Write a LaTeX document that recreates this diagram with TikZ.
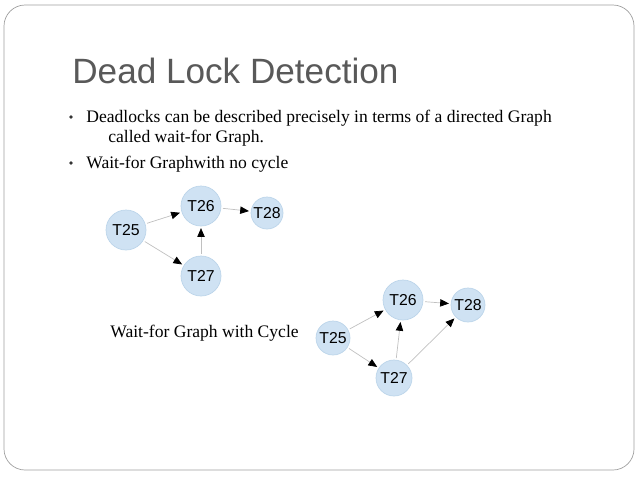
\documentclass[tikz,border=0pt]{standalone}
\usepackage{fontspec}
\setmainfont{Liberation Serif}
\newfontfamily\arialfont{Liberation Sans}
\usetikzlibrary{arrows.meta,positioning}

\definecolor{framegray}{HTML}{A0A0A0}
\definecolor{titlegray}{HTML}{595959}
\definecolor{nodefill}{HTML}{CFE2F3}
\definecolor{nodeline}{HTML}{BCD5EA}
\definecolor{edgegray}{HTML}{C0C0C0}

\begin{document}
\begin{tikzpicture}[
  x=0.02cm, y=-0.02cm,
  tnode/.style={circle, fill=nodefill, draw=nodeline, inner sep=0pt, font=\arialfont\fontsize{9}{10}\selectfont},
  waits/.style={-{Triangle[length=5pt, width=4.2pt, color=black]}, draw=edgegray, thin, shorten >=1pt, shorten <=1pt},
  bodytext/.style={anchor=base west, inner sep=0pt, font=\fontsize{10}{12}\selectfont},
  bulletdot/.style={circle, fill=black!80, inner sep=0pt, minimum size=2.2pt}
]
\useasboundingbox (0,0) rectangle (638,478);
\draw[framegray, rounded corners=12pt] (4,5) rectangle (634,470);

% title and bullets
\node[anchor=base west, inner sep=0pt, text=titlegray, font=\arialfont\fontsize{20}{24}\selectfont] (title) at (72,83) {Dead Lock Detection};
\node[bulletdot] (dot1) at (71,117) {};
\node[bodytext] (line1) at (86,122) {Deadlocks can be described precisely in terms of a directed Graph};
\node[bodytext] (line2) at (108,142) {called wait-for Graph.};
\node[bulletdot] (dot2) at (71,163) {};
\node[bodytext] (line3) at (86,168) {Wait-for Graphwith no cycle};
\node[bodytext] (cyclelabel) at (110,337) {Wait-for Graph with Cycle};

% graph without cycle
\node[tnode, minimum size=0.8cm] (a25) at (126,230) {T25};
\node[tnode, minimum size=0.8cm] (a26) at (201,206) {T26};
\node[tnode, minimum size=0.64cm] (a28) at (267,213) {T28};
\node[tnode, minimum size=0.8cm] (a27) at (201,276) {T27};

\draw[waits] (a25) -- (a26);
\draw[waits] (a25) -- (a27);
\draw[waits] (a27) -- (a26);
\draw[waits] (a26) -- (a28);

% graph with cycle
\node[tnode, minimum size=0.68cm] (b25) at (333,338) {T25};
\node[tnode, minimum size=0.8cm] (b26) at (403,300) {T26};
\node[tnode, minimum size=0.68cm] (b28) at (468,305) {T28};
\node[tnode, minimum size=0.72cm] (b27) at (394,378) {T27};

\draw[waits] (b25) -- (b26);
\draw[waits] (b25) -- (b27);
\draw[waits] (b27) -- (b26);
\draw[waits] (b26) -- (b28);
\draw[waits] (b27) -- (b28);
\end{tikzpicture}
\end{document}
